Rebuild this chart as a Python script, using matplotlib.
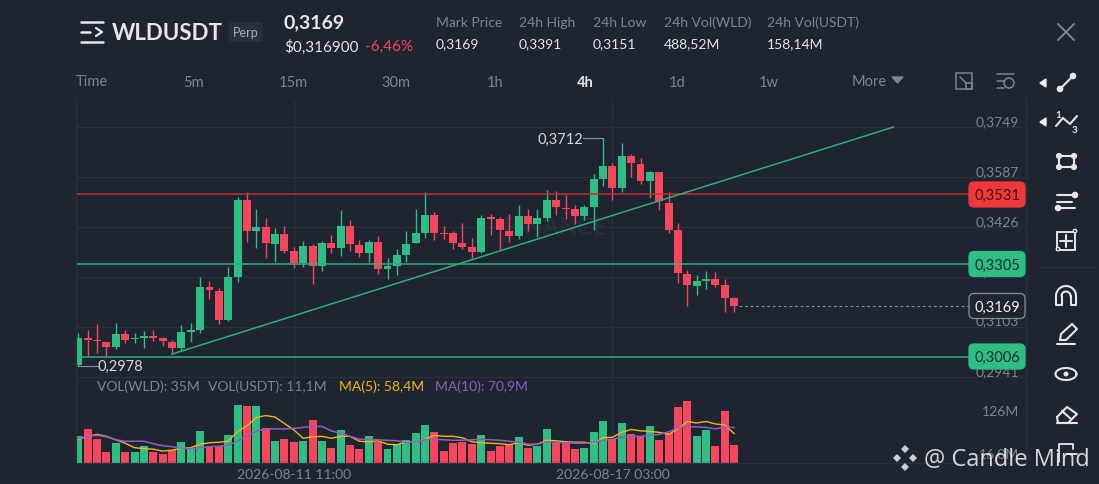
import matplotlib
matplotlib.use("Agg")
import matplotlib.pyplot as plt
from matplotlib.patches import FancyBboxPatch, Rectangle, Circle, Polygon
import numpy as np

plt.rcParams['font.family'] = ['Lato', 'DejaVu Sans']

# Input data
opens = [.2979,.3066,.3060,.3055,.3038,.3079,.3063,.3066,.3075,.3066,.3053,.3035,.3086,.3093,.3231,.3220,.3124,.3264,
         .3514,.3413,.3425,.3372,.3404,.3349,.3310,.3364,.3300,.3373,.3357,.3429,.3368,.3342,.3377,.3289,.3300,.3335,
         .3373,.3405,.3464,.3408,.3405,.3373,.3362,.3345,.3457,.3451,.3413,.3398,.3462,.3437,.3454,.3513,.3487,.3483,
         .3461,.3490,.3581,.3624,.3552,.3655,.3629,.3575,.3603,.3504,.3415,.3275,.3236,.3252,.3258,.3237,.3196]
highs = [.3082,.3093,.3111,.3055,.3117,.3093,.3084,.3091,.3093,.3071,.3062,.3109,.3115,.3263,.3251,.3228,.3295,.3522,
         .3539,.3483,.3455,.3423,.3428,.3362,.3382,.3371,.3381,.3401,.3481,.3447,.3384,.3384,.3397,.3325,.3354,.3413,
         .3484,.3538,.3474,.3429,.3414,.3440,.3389,.3465,.3468,.3459,.3468,.3496,.3483,.3485,.3545,.3542,.3528,.3496,
         .3496,.3596,.3712,.3632,.3696,.3662,.3649,.3606,.3605,.3540,.3440,.3287,.3272,.3284,.3281,.3259,.3199]
lows = [.2978,.3009,.3020,.3009,.3030,.3052,.3052,.3036,.3058,.3042,.3014,.3026,.3055,.3084,.3192,.3112,.3122,.3247,
        .3378,.3359,.3325,.3313,.3342,.3294,.3298,.3243,.3283,.3341,.3332,.3348,.3330,.3314,.3275,.3259,.3271,.3314,
        .3373,.3389,.3384,.3388,.3354,.3356,.3327,.3341,.3401,.3352,.3378,.3388,.3414,.3395,.3446,.3466,.3451,.3436,
        .3448,.3416,.3559,.3513,.3540,.3589,.3566,.3520,.3481,.3405,.3244,.3172,.3206,.3224,.3233,.3150,.3152]
closes = [.3068,.3062,.3056,.3039,.3079,.3062,.3067,.3074,.3068,.3056,.3036,.3085,.3093,.3231,.3221,.3124,.3264,.3514,
          .3413,.3425,.3373,.3403,.3349,.3311,.3364,.3300,.3373,.3357,.3429,.3370,.3342,.3377,.3289,.3300,.3335,.3372,
          .3405,.3464,.3408,.3403,.3373,.3362,.3346,.3456,.3453,.3415,.3398,.3460,.3437,.3454,.3513,.3489,.3484,.3461,
          .3489,.3581,.3624,.3552,.3655,.3632,.3575,.3603,.3510,.3415,.3276,.3238,.3252,.3257,.3238,.3197,.3169]
vols = [53,68,47,22,39,22,21,33,22,17,26,42,28,63,31,34,55,116,114,115,70,43,47,41,44,86,43,30,66,36,28,53,41,28,38,45,
        59,75,61,23,40,42,38,55,24,33,37,51,30,34,68,39,39,28,29,61,83,48,79,57,52,73,46,59,113,125,53,65,33,105,35]
ma5 = [47,53,57,53,46,39,30,28,27,23,25,29,30,37,40,41,43,63,74,91,95,92,79,66,49,52,53,49,53,53,43,42,44,37,36,42,
       42,47,55,53,53,50,42,40,39,38,36,40,35,37,45,44,42,41,41,38,50,51,61,67,64,63,61,57,68,83,80,83,78,76,58.4]
ma10 = [49,53,55,52,46,43,43,43,38,34,32,29,28,30,32,33,35,43,54,63,68,68,68,69,71,73,73,64,59,53,47,47,46,45,44,41,
        42,46,47,46,45,45,46,47,46,45,43,41,37,37,42,41,40,39,39,41,45,47,51,53,53,55,57,62,70,73,72,71,68,72,70.9]

price_ticks = [0.3749, 0.3587, 0.3426, 0.3264, 0.3103, 0.2941]
date_pos = [23, 57]
date_labels = ["2026-08-11 11:00", "2026-08-17 03:00"]
red_level = 0.3531
green_levels = [0.3305, 0.3006]
last_price = 0.3169
trend_x = [10, 87]
trend_y = [0.3015, 0.3749]
low_idx, low_val = 0, 0.2978
high_idx, high_val = 56, 0.3712

header_stats = [("Mark Price", "0,3169", 436), ("24h High", "0,3391", 519), ("24h Low", "0,3151", 593),
                ("24h Vol(WLD)", "488,52M", 664), ("24h Vol(USDT)", "158,14M", 767)]
intervals = [("Time", 92), ("5m", 193), ("15m", 293), ("30m", 396), ("1h", 495), ("4h", 585), ("1d", 677), ("1w", 769)]

BG = '#1e2530'
GRID = '#2a313c'
GREEN = '#2ebd85'
RED = '#f6465d'
LINE_GREEN = '#2fae80'
LINE_RED = '#c6302f'
MUTED = '#7d8590'
LIGHT = '#e4e6ea'

W, H = 1099, 485
fig = plt.figure(figsize=(W / 100, H / 100), dpi=100, facecolor=BG)


def box(x0, y0, x1, y1):
    return [x0 / W, 1 - y1 / H, (x1 - x0) / W, (y1 - y0) / H]


x_lim = (-0.139, 101.14)
x = np.arange(len(opens))
colors = [GREEN if c >= o else RED for o, c in zip(opens, closes)]

# Candles
ax = fig.add_axes(box(77, 101, 1026, 379), facecolor=BG)
ax.set_xlim(*x_lim)
ax.set_ylim(0.29378, 0.38363)
for y in price_ticks:
    ax.axhline(y, color=GRID, lw=0.9, zorder=0)
    ax.annotate(f"{y:.4f}".replace('.', ','), (1019, y), xycoords=('figure pixels', 'data'),
                xytext=(0, 4.5), textcoords='offset points', ha='right', va='center', color=MUTED, fontsize=10, zorder=1)
for p in date_pos:
    ax.axvline(p, color=GRID, lw=0.9, zorder=0)
ax.text(50.8, 0.3426, "BINANCE", color='#272e39', fontsize=17, fontweight='bold', ha='center', va='center', zorder=0.5)
ax.vlines(x, lows, highs, colors=colors, lw=1.0, zorder=2)
ax.bar(x, np.abs(np.array(closes) - np.array(opens)), bottom=np.minimum(opens, closes), width=0.85, color=colors,
       zorder=2)
ax.axhline(red_level, color=LINE_RED, lw=1.1, zorder=3)
for y in green_levels:
    ax.axhline(y, color=LINE_GREEN, lw=1.1, zorder=3)
ax.plot(trend_x, trend_y, color=LINE_GREEN, lw=1.1, zorder=3)
ax.plot([70.5, 101], [last_price, last_price], color='#8a9099', lw=0.8, ls=(0, (2.5, 2.5)), zorder=3)
ax.plot([low_idx, low_idx + 2.05], [low_val, low_val], color='#8a9099', lw=0.8, zorder=3)
ax.text(low_idx + 2.05, low_val, "0,2978", color='#d5d8dc', fontsize=10.5, va='center', ha='left', zorder=4)
ax.plot([high_idx - 2.1, high_idx, high_idx], [high_val, high_val, high_val - 0.0005], color='#8a9099', lw=0.8, zorder=3)
ax.text(high_idx - 2.15, high_val, "0,3712", color='#d5d8dc', fontsize=10.5, va='center', ha='right', zorder=4)
ax.axis('off')

# Volume
vax = fig.add_axes(box(77, 378.5, 1026, 463.5), facecolor=BG)
vax.set_xlim(*x_lim)
vax.set_ylim(0, 172)
for p in date_pos:
    vax.axvline(p, color=GRID, lw=0.9, zorder=0)
vax.bar(x, vols, width=0.85, color=colors, zorder=2)
vax.plot(x, ma5, color='#f0b90b', lw=1.0, zorder=3)
vax.plot(x, ma10, color='#8e5fc0', lw=1.1, zorder=3)
vax.axis('off')

# Chrome: an overlay in pixel coordinates for tags, header text and icons
ui = fig.add_axes([0, 0, 1, 1], facecolor='none')
ui.set_xlim(0, W)
ui.set_ylim(H, 0)
ui.axis('off')


def txt(px, py, s, color=MUTED, size=10, weight='normal', ha='left'):
    ui.text(px, py + 1, s, color=color, fontsize=size, fontweight=weight, ha=ha, va='center')


def seg(xs, ys, color=LIGHT, lw=1.5):
    ui.plot(xs, ys, color=color, lw=lw, solid_capstyle='round')


def dot(px, py, r=2.6, fill=LIGHT):
    ui.add_patch(Circle((px, py), r, facecolor=fill, edgecolor=LIGHT, lw=1.0, zorder=5))


ui.plot([76, 76], [100, 463], color=GRID, lw=0.9)
ui.plot([1026, 1026], [100, 463], color=GRID, lw=0.9)
ui.plot([77, 1026], [464, 464], color=GRID, lw=0.9)

# Price tags
for py, fc, ec, tc, label in [(195.5, '#f0383b', '#f0383b', '#3a1216', "0,3531"), (265, GREEN, GREEN, '#0f2e24', "0,3305"),
                              (307, BG, '#8a9099', '#f0f1f3', "0,3169"), (357.5, GREEN, GREEN, '#0f2e24', "0,3006")]:
    ui.add_patch(FancyBboxPatch((969, py - 12.5), 56, 25, boxstyle="round,pad=0,rounding_size=5", facecolor=fc,
                                edgecolor=ec, lw=0.9, zorder=4))
    ui.text(997, py + 0.5, label, color=tc, fontsize=10.5, ha='center', va='center', zorder=6)

# Volume labels
txt(97, 386, "VOL(WLD): 35M", size=10)
txt(208, 386, "VOL(USDT): 11,1M", size=10)
txt(339, 386, "MA(5): 58,4M", color='#f0b90b', size=10)
txt(435, 386, "MA(10): 70,9M", color='#8e5fc0', size=10)
txt(1019, 411, "126M", ha='right', size=10)
txt(1019, 453, "16,0M", ha='right', size=10)
for p, label in zip(date_pos, date_labels):
    txt(78.3 + 9.37 * p, 474, label, ha='center', size=10)

# Header
for yy in (23, 33, 43):
    seg([81, 103 if yy != 33 else 90], [yy, yy], lw=1.8)
seg([96, 102, 96], [29, 33, 37], lw=1.6)
txt(112, 32, "WLDUSDT", color=LIGHT, size=16, weight='bold')
ui.add_patch(FancyBboxPatch((229, 23), 34, 20, boxstyle="round,pad=0,rounding_size=3", facecolor='#2a303b', edgecolor='none'))
txt(246, 32, "Perp", color='#a9afb8', size=9, ha='center')
txt(284, 22, "0,3169", color=LIGHT, size=14, weight='bold')
txt(284, 46, "$0,316900", color=LIGHT, size=11)
txt(365, 46, "-6,46%", color=RED, size=11)
for label, val, px in header_stats:
    txt(px, 22, label, color=MUTED, size=10)
    txt(px, 43, val, color=LIGHT, size=10)

for label, px in intervals:
    active = label == "4h"
    txt(px, 82 if label != "Time" else 81, label, color=LIGHT if active else MUTED, size=10.5,
        weight='bold' if active else 'normal', ha='center')
txt(852, 81, "More", color=MUTED, size=10.5)
ui.add_patch(Polygon([[892, 78], [903, 78], [897.5, 84]], color=MUTED))

# Small screenshot icons at the top right
ui.add_patch(Rectangle((956, 74), 16, 16, fill=False, edgecolor=MUTED, lw=1.1))
ui.add_patch(Rectangle((966, 84), 6, 6, fill=False, edgecolor=MUTED, lw=1.1))
seg([960, 966], [78, 84], color=MUTED, lw=1.1)
seg([997, 1014], [75, 75], color=MUTED, lw=1.1)
seg([997, 1004], [82, 82], color=MUTED, lw=1.1)
seg([997, 1004], [89, 89], color=MUTED, lw=1.1)
ui.add_patch(Circle((1009, 84), 5, fill=False, edgecolor=MUTED, lw=1.1))
seg([1058, 1074], [25, 41], color=MUTED, lw=1.4)
seg([1058, 1074], [41, 25], color=MUTED, lw=1.4)

# Right hand drawing tools
for py in (84, 123):
    ui.add_patch(Polygon([[1040, py], [1046, py - 4], [1046, py + 4]], color='#f0f1f3'))
seg([1060, 1073], [90, 77])
dot(1060, 90)
dot(1073, 77)
seg([1056, 1063, 1070, 1077], [127, 119, 125, 117])
txt(1058, 115, "1", color=LIGHT, size=7, weight='bold', ha='center')
txt(1074, 130, "3", color=LIGHT, size=7, weight='bold', ha='center')
ui.add_patch(Rectangle((1059, 157), 15, 11, fill=False, edgecolor=LIGHT, lw=1.5))
for px, py in [(1059, 157), (1074, 157), (1059, 168), (1074, 168)]:
    dot(px, py, r=2.4)
seg([1057, 1075], [196, 196])
seg([1057, 1072], [203, 203])
seg([1060, 1075], [209, 209])
dot(1075, 196)
dot(1058, 209)
ui.add_patch(Rectangle((1057, 233), 18, 18, fill=False, edgecolor=LIGHT, lw=1.4))
seg([1066, 1066], [236, 248])
seg([1060, 1072], [242, 242])
dot(1058, 250, r=1.7, fill=BG)
dot(1075, 232, r=1.7, fill=BG)
ui.plot([1038, 1095], [268, 268], color=GRID, lw=1)
t = np.linspace(np.pi, 2 * np.pi, 30)
seg(1066 + 10 * np.cos(t), 297 + 10 * np.sin(t))
seg(1066 + 4.5 * np.cos(t), 297 + 4.5 * np.sin(t))
seg([1056, 1056, 1061.5, 1061.5], [297, 306, 306, 297])
seg([1076, 1076, 1070.5, 1070.5], [297, 306, 306, 297])
seg([1057, 1075], [345, 345])
seg([1060, 1061, 1072, 1077, 1066, 1060], [341, 335, 325, 330, 341, 341])
et = np.linspace(0, 2 * np.pi, 40)
seg(1066 + 10.5 * np.cos(et), 375 + 6 * np.sin(et))
dot(1066, 375, r=1.8)
seg([1057, 1067, 1077, 1068, 1058, 1057], [418, 408, 415, 424, 424, 418])
seg([1057, 1077], [424, 424])
seg([1062, 1071], [412, 420])
seg([1059, 1059, 1073, 1073], [463, 445, 445, 450], lw=1.3)
seg([1066, 1077], [455, 455], lw=1.3)

# Source watermark sits over the whole screenshot
for cx, cy in [(905, 450), (897, 459), (913, 459), (905, 468)]:
    ui.add_patch(Polygon([[cx - 4, cy], [cx, cy - 4], [cx + 4, cy], [cx, cy + 4]], facecolor='#dfe2e6', edgecolor='none',
                         alpha=0.9, zorder=8))
ui.text(924, 460, "@ Candle Mind", color='#e8eaed', alpha=0.9, fontsize=17, ha='left', va='center', zorder=8,
        family=['Open Sans', 'DejaVu Sans'])

fig.savefig("out.png", dpi=100, facecolor=BG)
